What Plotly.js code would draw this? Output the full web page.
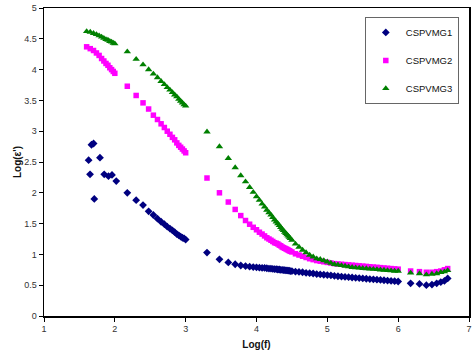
<!DOCTYPE html>
<html>
<head>
<meta charset="utf-8">
<script src="https://cdn.plot.ly/plotly-3.0.1.min.js"></script>
<style>html,body{margin:0;padding:0;background:#fff;}#chart{width:474px;height:362px;}</style>
</head>
<body>
<div id="chart"></div>
<script>
// ---- data: log(f) grids ----
const LF_X = [1.602,1.653,1.699,1.740,1.778,1.813,1.845,1.875,1.903,1.929,1.954,1.978,2.000];
const MF_X = [2.176,2.301,2.398,2.477,2.544,2.602,2.653,2.699,2.740,2.778,2.813,2.845,2.875,2.903,2.929,2.954,2.978,3.000];
const HF_X = [3.301,3.477,3.602,3.699,3.778,3.845,3.903,3.954,4.000,4.041,4.079,4.114,4.146,4.176,4.204,4.230,4.255,4.279,4.301,4.322,4.342,4.362,4.380,4.398,4.415,4.431,4.447,4.462,4.477,
  4.50,4.55,4.60,4.65,4.70,4.75,4.80,4.85,4.90,4.95,5.00,5.05,5.10,5.15,5.20,5.25,5.30,5.35,5.40,5.45,5.50,5.55,5.60,5.65,5.70,5.75,5.80,5.85,5.90,5.95,6.00];
const TAIL_X = [6.176,6.301,6.398,6.477,6.544,6.602,6.653,6.699];

// CSPVMG1 (low-frequency points are scattered, own x)
const G1_LF_X = [1.63,1.65,1.67,1.70,1.71,1.79,1.85,1.91,1.96,2.02];
const G1_LF_Y = [2.53,2.30,2.78,2.80,1.90,2.57,2.30,2.27,2.29,2.19];
const G1_MF_Y = [2.00,1.88,1.80,1.70,1.64,1.58,1.53,1.49,1.45,1.42,1.39,1.36,1.33,1.31,1.29,1.27,1.26,1.24];
const G1_HF_Y = [1.03,0.92,0.87,0.84,0.82,0.81,0.80,0.795,0.79,0.785,0.78,0.78,0.775,0.77,0.77,0.765,0.76,0.76,0.755,0.755,0.75,0.75,0.745,0.745,0.74,0.74,0.735,0.735,0.73,
  0.73,0.72,0.715,0.71,0.70,0.695,0.69,0.68,0.675,0.67,0.665,0.66,0.65,0.645,0.64,0.635,0.63,0.625,0.62,0.615,0.61,0.605,0.60,0.595,0.59,0.585,0.58,0.575,0.57,0.565,0.56];
const G1_TAIL_Y = [0.53,0.52,0.50,0.51,0.53,0.55,0.57,0.61];

// CSPVMG2
const G2_LF_Y = [4.37,4.34,4.31,4.27,4.23,4.18,4.14,4.10,4.07,4.03,4.00,3.97,3.94];
const G2_MF_Y = [3.73,3.58,3.46,3.36,3.26,3.19,3.12,3.06,3.00,2.95,2.90,2.86,2.81,2.77,2.74,2.71,2.68,2.65];
const G2_HF_Y = [2.24,2.00,1.85,1.73,1.63,1.55,1.49,1.44,1.40,1.36,1.33,1.30,1.27,1.25,1.23,1.21,1.19,1.18,1.17,1.15,1.14,1.12,1.11,1.10,1.09,1.08,1.07,1.06,1.05,
  1.04,1.01,0.99,0.97,0.95,0.93,0.915,0.90,0.89,0.88,0.87,0.86,0.85,0.845,0.84,0.835,0.83,0.825,0.82,0.815,0.81,0.805,0.80,0.795,0.79,0.785,0.78,0.775,0.77,0.765,0.76];
const G2_TAIL_Y = [0.73,0.72,0.71,0.71,0.72,0.73,0.75,0.77];

// CSPVMG3
const G3_LF_Y = [4.62,4.61,4.59,4.57,4.55,4.53,4.51,4.49,4.48,4.46,4.45,4.43,4.42];
const G3_MF_Y = [4.29,4.17,4.08,4.00,3.93,3.87,3.81,3.76,3.71,3.67,3.63,3.59,3.56,3.52,3.49,3.46,3.43,3.41];
const G3_HF_Y = [2.99,2.75,2.56,2.41,2.28,2.18,2.09,2.01,1.94,1.88,1.82,1.77,1.72,1.68,1.64,1.60,1.56,1.53,1.50,1.47,1.44,1.41,1.39,1.36,1.34,1.32,1.30,1.28,1.26,
  1.23,1.17,1.12,1.07,1.03,0.99,0.96,0.93,0.92,0.90,0.88,0.86,0.84,0.83,0.82,0.81,0.80,0.79,0.785,0.78,0.775,0.77,0.765,0.76,0.755,0.75,0.745,0.74,0.735,0.73,0.73];
const G3_TAIL_Y = [0.70,0.69,0.67,0.68,0.69,0.71,0.72,0.74];

const NAMES = ['CSPVMG1','CSPVMG2','CSPVMG3'];
const X_TICKS = [1,2,3,4,5,6,7];
const Y_TICKS = [0,0.5,1,1.5,2,2.5,3,3.5,4,4.5,5];
const Y_TICK_TEXT = ['0','0.5','1','1.5','2','2.5','3','3.5','4','4.5','5'];

const FONT = 'Arial, "Liberation Sans", sans-serif';

const traces = [
  {name: NAMES[0], x: [].concat(G1_LF_X, MF_X, HF_X, TAIL_X), y: [].concat(G1_LF_Y, G1_MF_Y, G1_HF_Y, G1_TAIL_Y),
   marker: {symbol: 'diamond', size: 6, color: '#000080'}},
  {name: NAMES[1], x: [].concat(LF_X, MF_X, HF_X, TAIL_X), y: [].concat(G2_LF_Y, G2_MF_Y, G2_HF_Y, G2_TAIL_Y),
   marker: {symbol: 'square', size: 5.5, color: '#FF00FF'}},
  {name: NAMES[2], x: [].concat(LF_X, MF_X, HF_X, TAIL_X), y: [].concat(G3_LF_Y, G3_MF_Y, G3_HF_Y, G3_TAIL_Y),
   marker: {symbol: 'triangle-up', size: 6.5, color: '#008000'}}
].map((t, i) => Object.assign({type: 'scatter', mode: 'markers', legendgroup: 'g' + i}, t));

const layout = {
  width: 474, height: 362,
  margin: {l: 44, r: 5, t: 8, b: 46},
  paper_bgcolor: '#fff', plot_bgcolor: '#fff',
  font: {family: FONT, size: 9, color: '#222'},
  showlegend: true,
  legend: {
    x: 0.976, xanchor: 'right', y: 0.971, yanchor: 'top',
    bordercolor: '#666', borderwidth: 1, bgcolor: '#fff',
    font: {family: FONT, size: 9.5, color: '#111'},
    traceorder: 'grouped', tracegroupgap: 9
  },
  xaxis: {
    range: [1, 7], tickvals: X_TICKS, ticktext: X_TICKS.map(String),
    showgrid: false, zeroline: false, showline: true, mirror: true,
    linecolor: '#000', linewidth: 1.5, ticks: 'outside', ticklen: 4, tickcolor: '#000',
    tickfont: {family: FONT, size: 9, color: '#333'},
    title: {text: '<b>Log(f)</b>', font: {family: FONT, size: 10, color: '#111'}, standoff: 7}
  },
  yaxis: {
    range: [0, 5], tickvals: Y_TICKS, ticktext: Y_TICK_TEXT,
    showgrid: false, zeroline: false, showline: true, mirror: true,
    linecolor: '#000', linewidth: 1.5, ticks: 'outside', ticklen: 4, tickcolor: '#000',
    tickfont: {family: FONT, size: 9, color: '#333'},
    title: {text: "<b>Log(ε')</b>", font: {family: FONT, size: 10, color: '#111'}, standoff: 0}
  }
};

Plotly.newPlot('chart', traces, layout, {displayModeBar: false, staticPlot: true});
</script>
</body>
</html>
